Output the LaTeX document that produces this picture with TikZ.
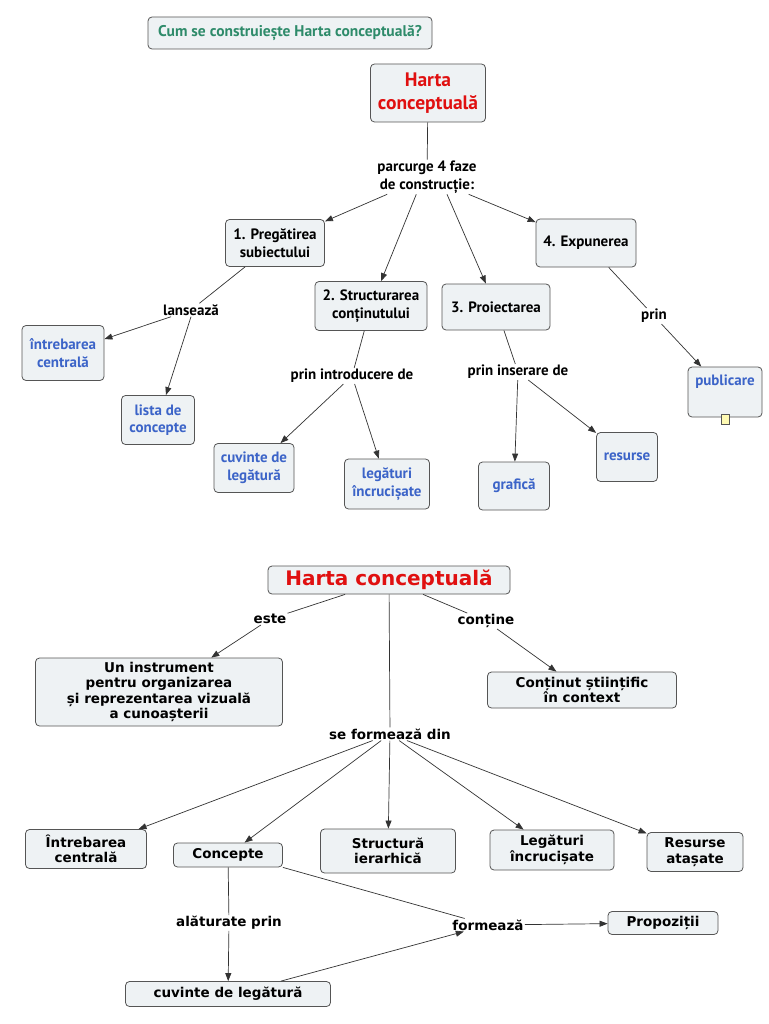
\documentclass[tikz,border=0pt]{standalone}
\usepackage{fontspec}
\setmainfont{PT Sans}
\newfontfamily\verd{DejaVu Sans}
\usetikzlibrary{arrows.meta}
\definecolor{boxfill}{HTML}{EEF2F4}
\definecolor{boxline}{HTML}{555555}
\definecolor{cblue}{HTML}{3C64C8}
\definecolor{cgreen}{HTML}{2E8B6A}
\definecolor{cred}{HTML}{E01010}
\begin{document}
\begin{tikzpicture}[x=1pt,y=-1pt,
  box/.style={draw=boxline,line width=0.8pt,fill=boxfill,rounded corners=4pt,align=center,inner sep=2pt},
  tb/.style={box,font=\fontsize{15}{17.5}\selectfont\bfseries},
  tl/.style={align=center,font=\fontsize{15}{17.5}\selectfont\bfseries,inner sep=1pt},
  bb/.style={box,font=\verd\fontsize{13.5}{15.5}\selectfont\bfseries},
  bl/.style={align=center,font=\verd\fontsize{13.5}{15.5}\selectfont\bfseries,inner sep=1pt},
  ln/.style={draw=black!80,line width=0.7pt},
  ar/.style={ln,-{Triangle[length=8pt,width=6pt]}}]
\useasboundingbox[fill=white] (0,0) rectangle (768,1024);
% ---- top diagram
\node[box,minimum width=284pt,minimum height=32pt,text=cgreen,font=\fontsize{15.5}{18}\selectfont\bfseries] (title) at (290,33) {Cum se construiește Harta conceptuală?};
\node[box,minimum width=115pt,minimum height=58pt,text=cred,font=\fontsize{19.5}{23}\selectfont\bfseries] (h1) at (428,93) {Harta\\conceptuală};
\node[tl] (faze) at (427,177) {parcurge 4 faze\\de construcție:};
\node[tb,minimum width=99pt,minimum height=47pt] (p1) at (275,243) {1. Pregătirea\\subiectului};
\node[tb,minimum width=112pt,minimum height=49pt] (p2) at (371,306) {2. Structurarea\\conținutului};
\node[tb,minimum width=108pt,minimum height=46pt] (p3) at (496,307) {3. Proiectarea};
\node[tb,minimum width=100pt,minimum height=48pt] (p4) at (586,243) {4. Expunerea};
\node[tl] (lans) at (191,310) {lansează};
\node[tb,text=cblue,minimum width=82pt,minimum height=55pt] (intr) at (63,353) {întrebarea\\centrală};
\node[tb,text=cblue,minimum width=73pt,minimum height=49pt] (lista) at (158,420) {lista de\\concepte};
\node[tl] (pintr) at (352,376) {prin introducere de};
\node[tb,text=cblue,minimum width=80pt,minimum height=49pt] (cuv) at (254,468) {cuvinte de\\legătură};
\node[tb,text=cblue,minimum width=85pt,minimum height=50pt] (leg) at (387,484) {legături\\încrucișate};
\node[tl] (pins) at (518,372) {prin inserare de};
\node[tb,text=cblue,minimum width=71pt,minimum height=48pt] (graf) at (514,486) {grafică};
\node[tb,text=cblue,minimum width=61pt,minimum height=49pt] (res) at (627,457) {resurse};
\node[tl] (prin) at (654,316) {prin};
\node[tb,text=cblue,minimum width=74pt,minimum height=50pt] (pub) at (725,392) {publicare\\[6pt]};
\node[draw=boxline,fill=yellow!30,minimum width=8pt,minimum height=10pt,inner sep=0pt] (icon) at (725,419) {};
\draw[ln] (h1) -- (faze);
\draw[ar] (faze) -- (p1);
\draw[ar] (faze.south west) ++(40,0) coordinate (f2) -- (p2);
\draw[ar] (faze.south) ++(20,0) coordinate (f3) -- (p3);
\draw[ar] (faze) -- (p4);
\draw[ln] (p1) -- (lans);
\draw[ar] (lans) -- (intr);
\draw[ar] (lans.south) -- (lista);
\draw[ln] (p2) -- (pintr);
\draw[ar] (pintr) -- (cuv);
\draw[ar] (pintr) -- (leg);
\draw[ln] (p3) -- (pins);
\draw[ar] (pins) -- (graf);
\draw[ar] (pins) -- (res);
\draw[ln] (p4) -- (prin);
\draw[ar] (prin) -- (pub);
% ---- bottom diagram
\node[bb,minimum width=242pt,minimum height=28pt,text=cred,font=\verd\fontsize{20}{22}\selectfont\bfseries] (h2) at (389,580) {Harta conceptuală};
\node[bl] (este) at (270,619) {este};
\node[bl] (cont) at (486,621) {conține};
\node[bb,minimum width=247pt,minimum height=68pt] (instr) at (159,692) {Un instrument\\pentru organizarea\\și reprezentarea vizuală\\a cunoașterii};
\node[bb,minimum width=189pt,minimum height=36pt] (ctx) at (582,690) {Conținut științific\\în context};
\node[bl] (sfd) at (390,734) {se formează din};
\node[bb,minimum width=121pt,minimum height=39pt] (q) at (86,849) {Întrebarea\\centrală};
\node[bb,minimum width=109pt,minimum height=24pt] (conc) at (228,855) {Concepte};
\node[bb,minimum width=135pt,minimum height=44pt] (str) at (388,851) {Structură\\ierarhică};
\node[bb,minimum width=124pt,minimum height=40pt] (lgi) at (552,850) {Legături\\încrucișate};
\node[bb,minimum width=96pt,minimum height=39pt] (rat) at (695,852) {Resurse\\atașate};
\node[bl] (alat) at (229,923) {alăturate prin};
\node[bl] (form) at (488,925) {formează};
\node[bb,minimum width=205pt,minimum height=25pt] (cdl) at (228,994) {cuvinte de legătură};
\node[bb,minimum width=110pt,minimum height=23pt] (prop) at (663,923) {Propoziții};
\draw[ln] (h2) -- (este);
\draw[ar] (este) -- (instr);
\draw[ln] (h2) -- (cont);
\draw[ar] (cont) -- (ctx);
\draw[ln] (h2) -- (sfd);
\draw[ar] (sfd) -- (q);
\draw[ar] (sfd) -- (conc);
\draw[ar] (sfd) -- (str);
\draw[ar] (sfd) -- (lgi);
\draw[ar] (sfd) -- (rat);
\draw[ln] (conc) -- (alat);
\draw[ar] (alat) -- (cdl);
\draw[ln] (conc.south east) -- (form);
\draw[ar] (cdl.north east) ++(-50,0) coordinate (c1) -- (form);
\draw[ar] (form) -- (prop);
\end{tikzpicture}
\end{document}
